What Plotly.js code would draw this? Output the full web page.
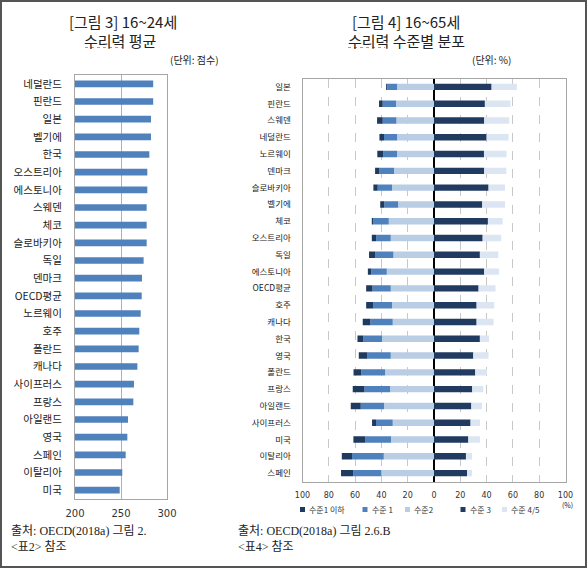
<!DOCTYPE html>
<html>
<head>
<meta charset="utf-8">
<script src="https://cdn.plot.ly/plotly-3.0.1.min.js"></script>
<style>
  html, body { margin: 0; padding: 0; background: #fff; }
  #wrap { position: relative; width: 587px; height: 568px; }
  #chart { position: absolute; left: 0; top: 0; width: 587px; height: 568px; }
  #frame { position: absolute; left: 0; top: 0; width: 587px; height: 568px; box-sizing: border-box; border: 2px solid #555; pointer-events: none; }
</style>
</head>
<body>
<div id="wrap"><div id="chart"></div><div id="frame"></div></div>
<script>
// ---- Figure 3: mean numeracy, age 16-24 ----
const countries3 = ["네덜란드","핀란드","일본","벨기에","한국","오스트리아","에스토니아","스웨덴","체코","슬로바키아","독일","덴마크","OECD평균","노르웨이","호주","폴란드","캐나다","사이프러스","프랑스","아일랜드","영국","스페인","이탈리아","미국"];
const scores3 = [285,285,282.6,282.6,280.8,278.6,278.6,277.9,277.9,277.9,274.6,272.8,272.5,271.4,269.9,269.2,267.8,264.1,263.4,257.6,256.9,255.1,251.4,248.6];
const xTickVals3 = [200,250,300];

// ---- Figure 4: distribution by proficiency level, age 16-65 (%) ----
const countries4 = ["일본","핀란드","스웨덴","네덜란드","노르웨이","덴마크","슬로바키아","벨기에","체코","오스트리아","독일","에스토니아","OECD평균","호주","캐나다","한국","영국","폴란드","프랑스","아일랜드","사이프러스","미국","이탈리아","스페인"];
const below1 = [0.8,2.8,4.3,3.5,4.6,3.3,3.3,3.0,1.0,3.3,4.6,2.5,4.8,5.3,5.8,4.3,6.3,5.8,8.9,7.6,3.0,8.9,7.8,9.4];
const level1 = [7.5,10.1,10.4,9.9,10.4,11.1,10.9,10.6,11.9,11.1,13.9,11.9,13.9,14.4,17.0,14.4,18.0,18.2,19.5,17.7,12.7,19.7,24.1,21.3];
const level2 = [28.1,28.9,28.6,28.1,28.1,30.4,31.9,27.3,34.4,32.9,30.9,35.9,32.9,31.9,31.4,39.5,32.9,37.2,33.4,38.0,31.4,32.7,38.2,40.0];
const level3 = [43.8,38.7,38.2,40.0,38.0,38.2,41.5,36.7,41.0,37.0,34.9,38.2,33.9,32.4,32.4,34.9,29.9,31.4,29.1,28.4,27.8,26.1,24.3,25.1];
const level45 = [19.2,19.5,19.0,16.7,17.2,16.8,12.5,17.3,11.2,14.1,14.0,11.2,12.9,13.4,12.9,6.9,11.6,8.9,8.4,8.1,7.2,8.8,4.6,3.8];
const levelNames = ["수준1 이하","수준 1","수준2","수준 3","수준 4/5"];
const xTickVals4 = [-100,-80,-60,-40,-20,0,20,40,60,80,100];
const xTickText4 = ["100","80","60","40","20","0","20","40","60","80","100"];

const colors = {below1:"#1f3a5f", level1:"#4f81bd", level2:"#b9cde5", level3:"#203a60", level45:"#dce6f2"};

const W = 587, H = 568;
const px = x => x / W;
const py = y => 1 - y / H;
const KFONT = "'Noto Sans CJK KR', 'Noto Sans', sans-serif";
const SFONT = "'Liberation Serif', 'Noto Sans CJK KR', serif";

const neg = a => a.map(v => -v);

const traces = [
  {type:"bar", orientation:"h", x:scores3, y:countries3, xaxis:"x", yaxis:"y",
   marker:{color:"#4f81bd"}, width:0.38, showlegend:false, hoverinfo:"x+y"},
  {type:"bar", orientation:"h", name:levelNames[2], x:neg(level2), y:countries4, xaxis:"x2", yaxis:"y2",
   marker:{color:colors.level2}, width:0.38, showlegend:false},
  {type:"bar", orientation:"h", name:levelNames[1], x:neg(level1), y:countries4, xaxis:"x2", yaxis:"y2",
   marker:{color:colors.level1}, width:0.38, showlegend:false},
  {type:"bar", orientation:"h", name:levelNames[0], x:neg(below1), y:countries4, xaxis:"x2", yaxis:"y2",
   marker:{color:colors.below1}, width:0.38, showlegend:false},
  {type:"bar", orientation:"h", name:levelNames[3], x:level3, y:countries4, xaxis:"x2", yaxis:"y2",
   marker:{color:colors.level3}, width:0.38, showlegend:false},
  {type:"bar", orientation:"h", name:levelNames[4], x:level45, y:countries4, xaxis:"x2", yaxis:"y2",
   marker:{color:colors.level45}, width:0.38, showlegend:false}
];

const annotations = [];
function txt(text, x, y, size, opts) {
  annotations.push(Object.assign({
    text: text, xref:"paper", yref:"paper", x: px(x), y: py(y),
    showarrow:false, xanchor:"center", yanchor:"middle",
    font:{family:KFONT, size:size, color:"#222"}
  }, opts || {}));
}
// titles
txt("[그림 3] 16~24세", 123, 22, 15);
txt("수리력 평균", 120, 41, 15);
txt("[그림 4] 16~65세", 406, 22, 15);
txt("수리력 수준별 분포", 406, 41, 15);
// units
txt("(단위: 점수)", 221, 59, 10, {xanchor:"right"});
txt("(단위: %)", 513, 60, 10, {xanchor:"right"});
txt("(%)", 567, 505, 7, {xanchor:"center"});
// footers
txt("출처: OECD(2018a) 그림 2.", 9, 531, 12, {xanchor:"left", font:{family:SFONT, size:12, color:"#222"}});
txt("<표2> 참조", 9, 547, 12, {xanchor:"left", font:{family:SFONT, size:12, color:"#222"}});
txt("출처: OECD(2018a) 그림 2.6.B", 236, 531, 12, {xanchor:"left", font:{family:SFONT, size:12, color:"#222"}});
txt("<표4> 참조", 236, 547, 12, {xanchor:"left", font:{family:SFONT, size:12, color:"#222"}});

// manual legend
const legendColors = [colors.below1, colors.level1, colors.level2, colors.level3, colors.level45];
const legendX = [300, 362.5, 405, 460.5, 502];
const shapes = [];
legendX.forEach((lx, i) => {
  shapes.push({type:"rect", xref:"paper", yref:"paper", x0:px(lx), x1:px(lx+5), y0:py(512), y1:py(507),
    fillcolor:legendColors[i], line:{width:0}});
  txt(levelNames[i], lx + 7, 509.5, 8, {xanchor:"left", font:{family:KFONT, size:8, color:"#333"}});
});
// spell-check dotted underlines under "수리력"
shapes.push({type:"line", xref:"paper", yref:"paper", x0:px(85), x1:px(122), y0:py(47.5), y1:py(47.5),
  line:{color:"#c09850", width:1, dash:"dot"}});
shapes.push({type:"line", xref:"paper", yref:"paper", x0:px(348), x1:px(385), y0:py(47.5), y1:py(47.5),
  line:{color:"#c09850", width:1, dash:"dot"}});

const layout = {
  width: W, height: H,
  margin:{l:0, r:0, t:0, b:0, pad:0},
  paper_bgcolor:"#fff", plot_bgcolor:"#fff",
  barmode:"relative", bargap:0.6,
  showlegend:false,
  font:{family:KFONT, color:"#222"},
  xaxis:{domain:[px(75), px(167)], range:[200,300], tickvals:xTickVals3, ticks:"",
    showgrid:true, gridcolor:"#b0b0b0", gridwidth:1, zeroline:false,
    showline:true, mirror:true, linecolor:"#a6a6a6", linewidth:1,
    tickfont:{family:"'DejaVu Sans', sans-serif", size:10, color:"#333"}, ticklabelstandoff:5, fixedrange:true},
  yaxis:{domain:[py(499), py(75)], type:"category", categoryorder:"array", categoryarray:countries3,
    autorange:"reversed", ticks:"", showgrid:false, zeroline:false,
    showline:true, mirror:true, linecolor:"#a6a6a6", linewidth:1,
    tickfont:{family:KFONT, size:10.5, color:"#222"}, ticklabelstandoff:10, fixedrange:true},
  xaxis2:{domain:[px(302.5), px(565.5)], range:[-100,100], tickvals:xTickVals4, ticktext:xTickText4, ticks:"",
    anchor:"y2", showgrid:true, gridcolor:"#c8c8c8", gridwidth:1, griddash:"dash",
    zeroline:true, zerolinecolor:"#000", zerolinewidth:1.5,
    showline:true, mirror:true, linecolor:"#a6a6a6", linewidth:1,
    tickfont:{family:"'DejaVu Sans', sans-serif", size:8, color:"#333"}, ticklabelstandoff:6, fixedrange:true},
  yaxis2:{domain:[py(481.5), py(78.5)], anchor:"x2", type:"category", categoryorder:"array", categoryarray:countries4,
    autorange:"reversed", ticks:"", showgrid:false, zeroline:false,
    showline:true, mirror:true, linecolor:"#a6a6a6", linewidth:1,
    tickfont:{family:KFONT, size:8.5, color:"#222"}, ticklabelstandoff:9, fixedrange:true},
  annotations: annotations,
  shapes: shapes
};

Plotly.newPlot("chart", traces, layout, {displayModeBar:false, staticPlot:true});
</script>
</body>
</html>
